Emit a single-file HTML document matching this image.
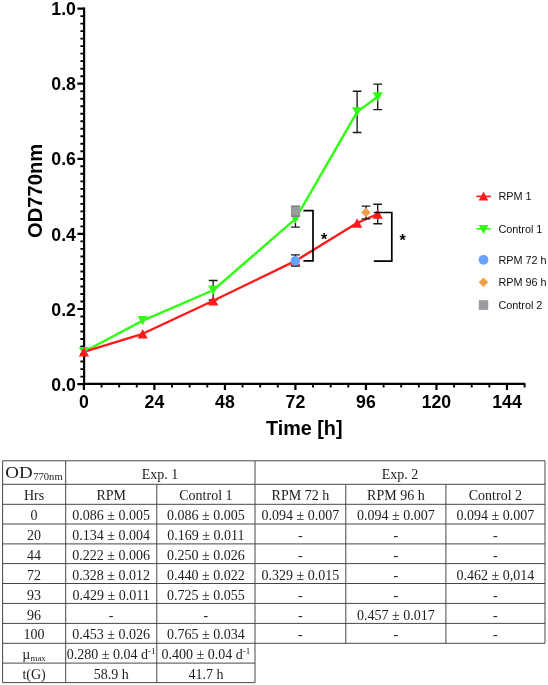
<!DOCTYPE html>
<html lang="en"><head><meta charset="utf-8"><title>Growth curve OD770nm</title>
<style>
html,body{margin:0;padding:0;background:#fff}
body{width:548px;height:685px;position:relative;overflow:hidden;font-family:"Liberation Sans",Arial,sans-serif}
svg{display:block}
</style></head><body>
<svg id="chart" width="548" height="450" viewBox="0 0 548 450" style="position:absolute;left:0;top:0">
<g stroke="#000" fill="none">
<path d="M84.1 7.5V385" stroke-width="2.2"/>
<path d="M83 383.9H525.4" stroke-width="2.2"/>
<path d="M80.4 376.59H84M80.4 369.08H84M80.4 361.57H84M80.4 354.06H84M80.4 346.55H84M80.4 339.04H84M80.4 331.53H84M80.4 324.02H84M80.4 316.51H84M80.4 301.49H84M80.4 293.98H84M80.4 286.47H84M80.4 278.96H84M80.4 271.45H84M80.4 263.94H84M80.4 256.43H84M80.4 248.92H84M80.4 241.41H84M80.4 226.39H84M80.4 218.88H84M80.4 211.37H84M80.4 203.86H84M80.4 196.35H84M80.4 188.84H84M80.4 181.33H84M80.4 173.82H84M80.4 166.31H84M80.4 151.29H84M80.4 143.78H84M80.4 136.27H84M80.4 128.76H84M80.4 121.25H84M80.4 113.74H84M80.4 106.23H84M80.4 98.72H84M80.4 91.21H84M80.4 76.19H84M80.4 68.68H84M80.4 61.17H84M80.4 53.66H84M80.4 46.15H84M80.4 38.64H84M80.4 31.13H84M80.4 23.62H84M80.4 16.11H84" stroke-width="1.9"/>
<path d="M77.4 384.10H84M77.4 309.00H84M77.4 233.90H84M77.4 158.80H84M77.4 83.70H84M77.4 8.60H84" stroke-width="2.2"/>
<path d="M101.53 384V387.6M119.16 384V387.6M136.78 384V387.6M172.04 384V387.6M189.67 384V387.6M207.30 384V387.6M242.55 384V387.6M260.18 384V387.6M277.81 384V387.6M313.06 384V387.6M330.69 384V387.6M348.32 384V387.6M383.58 384V387.6M401.20 384V387.6M418.83 384V387.6M454.09 384V387.6M471.72 384V387.6M489.34 384V387.6M524.60 384V387.6" stroke-width="1.9"/>
<path d="M83.90 384V390M154.41 384V390M224.92 384V390M295.44 384V390M365.95 384V390M436.46 384V390M506.97 384V390" stroke-width="2.2"/>
</g>
<g font-family="Liberation Sans, Arial, sans-serif" font-weight="bold" font-size="17.7" fill="#000">
<text x="75.9" y="390.70" text-anchor="end">0.0</text>
<text x="75.9" y="315.60" text-anchor="end">0.2</text>
<text x="75.9" y="240.50" text-anchor="end">0.4</text>
<text x="75.9" y="165.40" text-anchor="end">0.6</text>
<text x="75.9" y="90.30" text-anchor="end">0.8</text>
<text x="75.9" y="15.20" text-anchor="end">1.0</text>
<text x="83.90" y="408" text-anchor="middle">0</text>
<text x="154.41" y="408" text-anchor="middle">24</text>
<text x="224.92" y="408" text-anchor="middle">48</text>
<text x="295.44" y="408" text-anchor="middle">72</text>
<text x="365.95" y="408" text-anchor="middle">96</text>
<text x="436.46" y="408" text-anchor="middle">120</text>
<text x="506.97" y="408" text-anchor="middle">144</text>
<text x="304.2" y="435" text-anchor="middle" font-size="19.8">Time [h]</text>
<text transform="translate(41.6 190.9) rotate(-90)" text-anchor="middle" font-size="20.2">OD770nm</text>
</g>
<path d="M213.17 280.46V299.99M208.77 280.46H217.57M208.77 299.99H217.57" stroke="#1a1a1a" stroke-width="1.35" fill="none"/>
<path d="M295.44 210.62V227.14M291.04 210.62H299.84M291.04 227.14H299.84" stroke="#1a1a1a" stroke-width="1.35" fill="none"/>
<path d="M357.13 91.21V132.52M352.73 91.21H361.53M352.73 132.52H361.53" stroke="#1a1a1a" stroke-width="1.35" fill="none"/>
<path d="M377.70 84.08V109.61M373.30 84.08H382.10M373.30 109.61H382.10" stroke="#1a1a1a" stroke-width="1.35" fill="none"/>
<path d="M377.70 204.24V223.76M373.30 204.24H382.10M373.30 223.76H382.10" stroke="#1a1a1a" stroke-width="1.35" fill="none"/>
<polyline points="83.90,351.81 142.66,320.64 213.17,290.23 295.44,218.88 357.13,111.86 377.70,96.84" fill="none" stroke="#30ff12" stroke-width="2.4" stroke-linejoin="round"/>
<polyline points="83.90,351.81 142.66,333.78 213.17,300.74 295.44,260.94 357.13,223.01 377.70,214.00" fill="none" stroke="#ff1a1a" stroke-width="2.4" stroke-linejoin="round"/>
<path d="M78.80 347.11H89.00L83.90 356.51Z" fill="#30ff12"/>
<path d="M137.56 315.94H147.76L142.66 325.34Z" fill="#30ff12"/>
<path d="M208.07 285.53H218.27L213.17 294.93Z" fill="#30ff12"/>
<path d="M290.34 214.18H300.54L295.44 223.58Z" fill="#30ff12"/>
<path d="M352.03 107.16H362.23L357.13 116.56Z" fill="#30ff12"/>
<path d="M372.60 92.14H382.80L377.70 101.54Z" fill="#30ff12"/>
<path d="M78.80 356.51H89.00L83.90 347.11Z" fill="#ff1a1a"/>
<path d="M137.56 338.48H147.76L142.66 329.08Z" fill="#ff1a1a"/>
<path d="M208.07 305.44H218.27L213.17 296.04Z" fill="#ff1a1a"/>
<path d="M290.34 265.64H300.54L295.44 256.24Z" fill="#ff1a1a"/>
<path d="M352.03 227.71H362.23L357.13 218.31Z" fill="#ff1a1a"/>
<path d="M372.60 218.70H382.80L377.70 209.30Z" fill="#ff1a1a"/>
<path d="M295.44 254.93V266.19M291.04 254.93H299.84M291.04 266.19H299.84" stroke="#1a1a1a" stroke-width="1.35" fill="none"/>
<circle cx="295.34" cy="260.86" r="4.8" fill="#66a3ff"/>
<path d="M365.95 206.11V218.88M361.55 206.11H370.35M361.55 218.88H370.35" stroke="#1a1a1a" stroke-width="1.35" fill="none"/>
<path d="M361.15 212.50L365.95 207.70L370.75 212.50L365.95 217.30Z" fill="#f0a04b"/>
<rect x="290.94" y="205.92" width="9.2" height="10.4" fill="#9b9b9f"/>
<path d="M290.94 206.12H300.14M290.94 216.12H300.14" stroke="#77777c" stroke-width="1.2"/>
<path d="M303.4 210.7H313V260.8H303.4" fill="none" stroke="#000" stroke-width="1.7"/>
<path d="M373.8 212.5H391.8V261.2H373.8" fill="none" stroke="#000" stroke-width="1.7"/>
<g font-family="Liberation Sans, Arial, sans-serif" font-weight="bold" font-size="16" fill="#000" text-anchor="middle">
<text x="324.0" y="244.6">*</text><text x="402.7" y="245.8">*</text></g>
<path d="M476.4 196.4H491" stroke="#ff1a1a" stroke-width="1.6"/>
<path d="M478.70 200.60H488.30L483.50 191.40Z" fill="#ff1a1a"/>
<path d="M476.4 228.9H491" stroke="#30ff12" stroke-width="1.6"/>
<path d="M478.70 225.10H488.30L483.50 234.30Z" fill="#30ff12"/>
<circle cx="483.5" cy="259.8" r="4.9" fill="#66a3ff"/>
<path d="M478.7 282.2L483.5 277.4L488.3 282.2L483.5 287.0Z" fill="#f0a04b"/>
<rect x="478.8" y="300.2" width="9.4" height="9.7" fill="#9b9b9f"/>
<g font-family="Liberation Sans, Arial, sans-serif" font-size="10.85" fill="#111">
<text x="498.4" y="199.7">RPM 1</text>
<text x="498.4" y="232.9">Control 1</text>
<text x="498.4" y="263.5">RPM 72 h</text>
<text x="498.4" y="286.1">RPM 96 h</text>
<text x="498.4" y="308.6">Control 2</text>
</g>
</svg>
<svg id="tbl" width="548" height="235" viewBox="0 450 548 235" style="position:absolute;left:0;top:450px">
<path d="M2.6 460.8H545.0M2.6 484.3H545.0M2.6 504.3H545.0M2.6 524.0H545.0M2.6 543.9H545.0M2.6 563.6H545.0M2.6 583.5H545.0M2.6 603.4H545.0M2.6 623.4H545.0M2.6 643.3H545.0M2.6 663.1H255.0M2.6 682.6H255.0M2.6 460.8V682.6M65.7 460.8V682.6M156.8 484.3V682.6M255.0 460.8V682.6M345.8 484.3V643.3M445.9 484.3V643.3M545.0 460.8V643.3" fill="none" stroke="#484848" stroke-width="1"/>
<g font-family="Liberation Serif, Times New Roman, serif" font-size="14" fill="#1c1c1c" text-anchor="middle">
<text transform="translate(5.2 477.9) scale(1.17 1)" text-anchor="start" font-size="16.2">OD</text><text x="33.2" y="479.7" text-anchor="start" font-size="10.6">770nm</text>
<text x="160.0" y="478.7">Exp. 1</text>
<text x="400.0" y="478.7">Exp. 2</text>
<text x="34.1" y="500.4">Hrs</text>
<text x="111.2" y="500.4">RPM</text>
<text x="205.9" y="500.4">Control 1</text>
<text x="300.4" y="500.4">RPM 72 h</text>
<text x="395.9" y="500.4">RPM 96 h</text>
<text x="495.4" y="500.4">Control 2</text>
<text x="34.1" y="520.2">0</text>
<text x="111.2" y="520.2">0.086 ± 0.005</text>
<text x="205.9" y="520.2">0.086 ± 0.005</text>
<text x="300.4" y="520.2">0.094 ± 0.007</text>
<text x="395.9" y="520.2">0.094 ± 0.007</text>
<text x="495.4" y="520.2">0.094 ± 0.007</text>
<text x="34.1" y="540.1">20</text>
<text x="111.2" y="540.1">0.134 ± 0.004</text>
<text x="205.9" y="540.1">0.169 ± 0.011</text>
<text x="300.4" y="540.1">-</text>
<text x="395.9" y="540.1">-</text>
<text x="495.4" y="540.1">-</text>
<text x="34.1" y="559.9">44</text>
<text x="111.2" y="559.9">0.222 ± 0.006</text>
<text x="205.9" y="559.9">0.250 ± 0.026</text>
<text x="300.4" y="559.9">-</text>
<text x="395.9" y="559.9">-</text>
<text x="495.4" y="559.9">-</text>
<text x="34.1" y="579.6">72</text>
<text x="111.2" y="579.6">0.328 ± 0.012</text>
<text x="205.9" y="579.6">0.440 ± 0.022</text>
<text x="300.4" y="579.6">0.329 ± 0.015</text>
<text x="395.9" y="579.6">-</text>
<text x="495.4" y="579.6">0.462 ± 0,014</text>
<text x="34.1" y="599.6">93</text>
<text x="111.2" y="599.6">0.429 ± 0.011</text>
<text x="205.9" y="599.6">0.725 ± 0.055</text>
<text x="300.4" y="599.6">-</text>
<text x="395.9" y="599.6">-</text>
<text x="495.4" y="599.6">-</text>
<text x="34.1" y="619.5">96</text>
<text x="111.2" y="619.5">-</text>
<text x="205.9" y="619.5">-</text>
<text x="300.4" y="619.5">-</text>
<text x="395.9" y="619.5">0.457 ± 0.017</text>
<text x="495.4" y="619.5">-</text>
<text x="34.1" y="639.4">100</text>
<text x="111.2" y="639.4">0.453 ± 0.026</text>
<text x="205.9" y="639.4">0.765 ± 0.034</text>
<text x="300.4" y="639.4">-</text>
<text x="395.9" y="639.4">-</text>
<text x="495.4" y="639.4">-</text>
<text x="34.1" y="659.3">µ<tspan font-size="9" dy="1.5">max</tspan></text>
<text x="111.2" y="659.3">0.280 ± 0.04 d<tspan font-size="9" dy="-5">-1</tspan></text>
<text x="205.9" y="659.3">0.400 ± 0.04 d<tspan font-size="9" dy="-5">-1</tspan></text>
<text x="34.1" y="679.0">t(G)</text>
<text x="111.2" y="679.0">58.9 h</text>
<text x="205.9" y="679.0">41.7 h</text>
</g></svg>
</body></html>
